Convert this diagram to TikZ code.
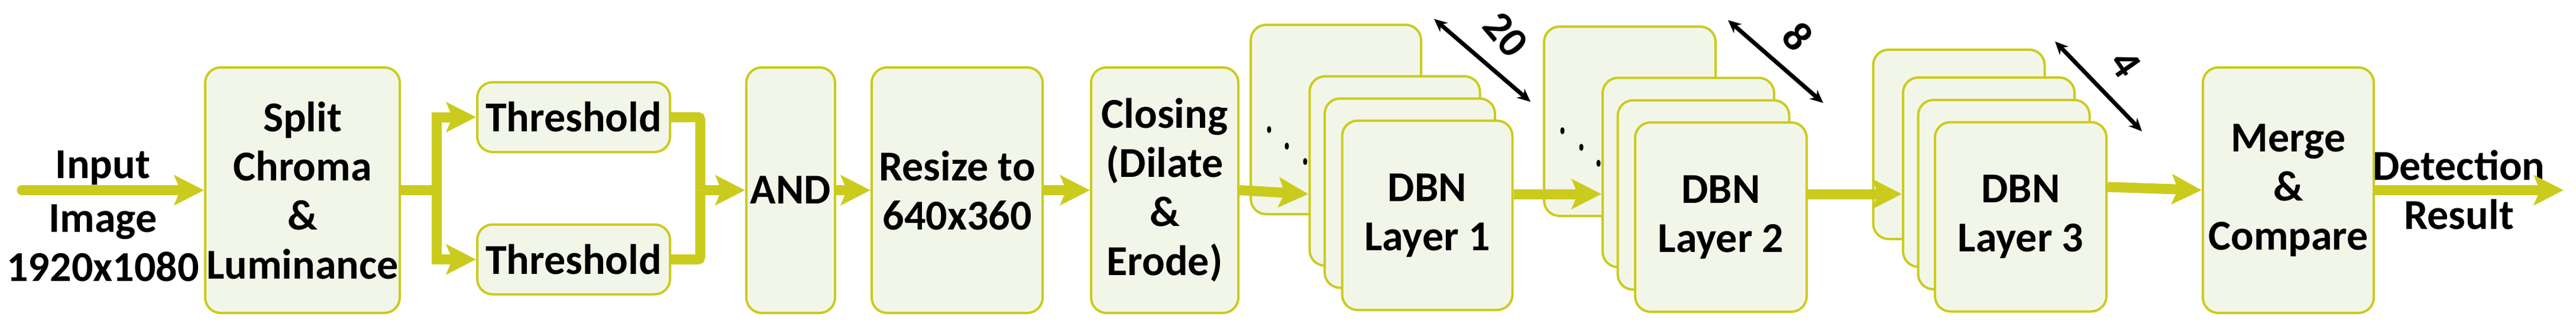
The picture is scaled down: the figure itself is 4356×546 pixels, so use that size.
\documentclass[tikz,border=0pt]{standalone}
\usepackage{fontspec}
\setmainfont{Carlito}
\usetikzlibrary{arrows.meta,shapes.geometric}
\definecolor{olv}{RGB}{203,203,30}
\definecolor{pale}{RGB}{242,246,233}
\begin{document}
\begin{tikzpicture}[x=1pt,y=-1pt,
  box/.style={draw=olv,fill=pale,line width=4pt,rounded corners=26pt,inner sep=0pt,
    align=center,font=\fontsize{72}{83}\selectfont\bfseries},
  lbl/.style={inner sep=0pt,align=center,font=\fontsize{72}{83}\selectfont\bfseries},
  arr/.style={draw=olv,line width=17pt,-{Stealth[length=50pt,width=50pt,inset=10pt]}},
  pipe/.style={draw=olv,line width=17pt,rounded corners=4pt},
  dim/.style={draw=black,line width=7pt,{Stealth[length=22pt,width=20pt]}-{Stealth[length=22pt,width=20pt]}},
  dot/.style={fill=black,ellipse,inner sep=0pt,minimum width=7pt,minimum height=12pt}]
\useasboundingbox (0,0) rectangle (4356,546);
% main boxes
\node[box,minimum width=329pt,minimum height=415pt] (split) at (511.5,321.5) {Split\\Chroma\\\&\\Luminance};
\node[box,minimum width=326pt,minimum height=118pt] (th1) at (970,198) {Threshold};
\node[box,minimum width=326pt,minimum height=118pt] (th2) at (970,438.5) {Threshold};
\node[box,minimum width=150pt,minimum height=415pt] (and) at (1337,321.5) {AND};
\node[box,minimum width=289pt,minimum height=415pt] (resize) at (1618.5,321.5) {Resize to\\640x360};
\node[box,minimum width=249pt,minimum height=415pt] (closing) at (1969.5,321.5) {Closing\\(Dilate\\\&\\Erode)};
% DBN 1
\node[box,minimum width=288pt,minimum height=320pt] (d1a) at (2259,202) {};
\node[box,minimum width=288pt,minimum height=320pt] (d1b) at (2358.5,289) {};
\node[box,minimum width=288pt,minimum height=320pt] (d1c) at (2384,326.5) {};
\node[box,minimum width=288pt,minimum height=320pt] (d1d) at (2413.5,364) {DBN\\Layer 1};
% DBN 2
\node[box,minimum width=290pt,minimum height=320pt] (d2a) at (2756,205) {};
\node[box,minimum width=290pt,minimum height=320pt] (d2b) at (2855,291.5) {};
\node[box,minimum width=290pt,minimum height=320pt] (d2c) at (2880.5,329.5) {};
\node[box,minimum width=290pt,minimum height=320pt] (d2d) at (2910,367) {DBN\\Layer 2};
% DBN 3
\node[box,minimum width=290pt,minimum height=320pt] (d3a) at (3312.5,244) {};
\node[box,minimum width=290pt,minimum height=320pt] (d3b) at (3363,291) {};
\node[box,minimum width=290pt,minimum height=320pt] (d3c) at (3388.5,329) {};
\node[box,minimum width=290pt,minimum height=320pt] (d3d) at (3417,366.5) {DBN\\Layer 3};
\node[box,minimum width=289pt,minimum height=415pt] (merge) at (3869.5,321.5) {Merge\\\&\\Compare};
% dots
\node[dot] (p1) at (2146,219) {}; \node[dot] (p2) at (2176,247) {}; \node[dot] (p3) at (2207,273) {};
\node[dot] (q1) at (2642,221) {}; \node[dot] (q2) at (2674,249) {}; \node[dot] (q3) at (2703,276) {};
% outside labels
\node[lbl] (in) at (174,365) {Input\\[8pt]Image\\1920x1080};
\node[lbl] (out) at (4158,321) {Detection\\Result};
\coordinate (s) at (37,321.5);
\coordinate (e) at (4335,321.5);
\coordinate (m) at (0,328);
% connectors
\draw[arr,line cap=round] (s) -- (split.west);
\draw[pipe] (split.east) -- (738,321.5) coordinate (fork);
\draw[arr] (fork) |- (th1.west);
\draw[arr] (fork) |- (th2.west);
\draw[pipe] (th1.east) -| (1184,321.5) coordinate (join);
\draw[pipe] (th2.east) -| (join);
\draw[arr] (join) -- (and.west);
\draw[arr] (and.east) -- (resize.west);
\draw[arr] (resize.east) -- (closing.west);
\draw[arr] (closing.east) -- (d1b.west |- m);
\draw[arr] (d1d.east |- m) -- (d2b.west |- m);
\draw[arr] (d2d.east |- m) -- (d3b.west |- m);
\draw[arr] (d3d.east |- 0,316) -- (merge.west);
\draw[arr] (merge.east) -- (e);
% dimension arrows
\coordinate (a1) at (2425,32); \coordinate (b1) at (2588,172);
\coordinate (a2) at (2922,34); \coordinate (b2) at (3083,174);
\coordinate (a3) at (3475,70); \coordinate (b3) at (3622,222);
\draw[dim] (a1) -- (b1);
\draw[dim] (a2) -- (b2);
\draw[dim] (a3) -- (b3);
\node[lbl,rotate=-50] (n20) at (2546,58) {20};
\node[lbl,rotate=-50] (n8) at (3040,62) {8};
\node[lbl,rotate=-55] (n4) at (3594,108) {4};
\end{tikzpicture}
\end{document}
